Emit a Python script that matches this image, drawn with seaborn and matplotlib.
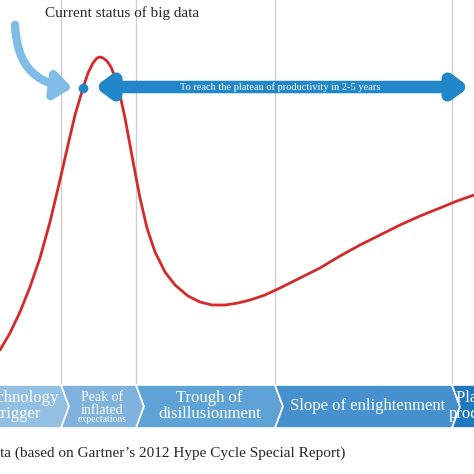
import matplotlib
matplotlib.use("Agg")
import matplotlib.pyplot as plt
import seaborn as sns
import pandas as pd
from matplotlib.patches import Polygon, FancyArrowPatch

curve_x = [0, 10, 20, 30, 40, 50, 60, 68, 75, 83, 88, 93, 97, 100, 103, 107, 111, 115, 120, 125, 130, 135, 140, 147, 155, 165, 175, 188, 200, 212, 225, 238, 250, 265, 280, 300, 320, 340, 360, 380, 400, 420, 440, 457, 474]
curve_y = [350, 333, 312, 287, 258, 222, 180, 145, 115, 88, 73, 63, 58, 57, 58, 61, 67, 77, 95, 118, 145, 172, 198, 228, 252, 272, 285, 296, 302, 305, 305, 303, 300, 295, 288, 278, 268, 256, 245, 235, 225, 216, 208, 201, 195]
phase_edges = [-30, 61, 136, 275, 452, 520]
phase_labels = ["Technology\ntrigger", "Peak of\ninflated\nexpectations", "Trough of\ndisillusionment", "Slope of enlightenment", "Plateau of\nproductivity"]
phase_colors = ["#93bfe2", "#7fb3de", "#5fa2d5", "#4590cd", "#1f78bf"]

sns.set_style("white")
plt.rcParams['font.family'] = ['Liberation Serif', 'DejaVu Serif']
fig = plt.figure(figsize=(4.74, 4.74), dpi=100)
ax = fig.add_axes([0, 0, 1, 1])

for x in phase_edges[1:-1]:
    ax.plot([x, x], [0, 385], color="#d0d0d0", lw=1, zorder=1)

top, bot, d = 385, 428, 8
for i, lab in enumerate(phase_labels):
    a, b = phase_edges[i], phase_edges[i + 1]
    poly = [(a, top), (b, top), (b + d, (top + bot) / 2), (b, bot), (a, bot), (a + d, (top + bot) / 2)]
    ax.add_patch(Polygon(poly, closed=True, fc=phase_colors[i], ec="white", lw=1.2, zorder=2))
    cx = (a + b) / 2 + 4
    if i == 1:
        ax.text(cx, 404, "Peak of\ninflated", color="white", ha="center", va="center", fontsize=10, linespacing=1.0, zorder=3)
        ax.text(cx, 420, "expectations", color="white", ha="center", va="center", fontsize=7, zorder=3)
    else:
        ax.text(cx, (top + bot) / 2, lab, color="white", ha="center", va="center", fontsize=12, linespacing=1.0, zorder=3)

df = pd.DataFrame({"x": curve_x, "y": curve_y})
sns.lineplot(data=df, x="x", y="y", color="#d42a2a", lw=2, ax=ax, zorder=4, sort=False)
ax.set_xlim(0, 474); ax.set_ylim(474, 0); ax.axis("off")

ax.add_patch(FancyArrowPatch((92, 87), (472, 87), arrowstyle="<|-|>,head_length=8,head_width=6",
                             mutation_scale=1, color="#2187c9", lw=9, zorder=4))
ax.text(280, 87, "To reach the plateau of productivity in 2-5 years", color="white", ha="center", va="center", fontsize=7.5, zorder=5)
ax.plot([83], [88], "o", color="#2187c9", ms=6, zorder=6)

ax.add_patch(FancyArrowPatch((15, 22), (75, 88), connectionstyle="arc3,rad=0.45",
                             arrowstyle="-|>,head_length=10,head_width=8", mutation_scale=1,
                             color="#7fbde6", lw=6, zorder=5))
ax.text(45, 13, "Current status of big data", fontsize=11, va="center", ha="left")
ax.text(0, 453, "ta (based on Gartner\u2019s 2012 Hype Cycle Special Report)", fontsize=11, va="center", ha="left")
fig.savefig("out.png", dpi=100)
